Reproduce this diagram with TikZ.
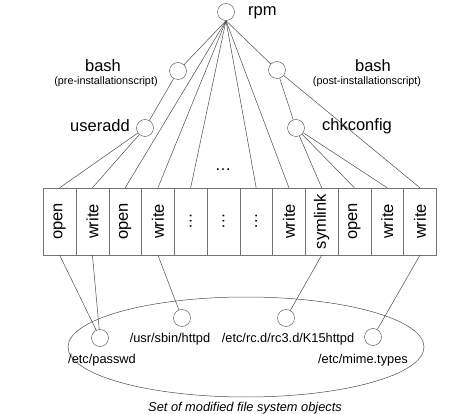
\documentclass[tikz,border=0pt]{standalone}
\usepackage{fontspec}
\setmainfont{Liberation Sans}
\usepackage{graphicx}

\begin{document}
\begin{tikzpicture}[x=1pt,y=-1pt,
    proc/.style={circle,draw=black!70,minimum size=17pt,inner sep=0pt},
    call/.style={draw=black!55,minimum width=32.75pt,minimum height=67pt,inner sep=0pt,font=\fontsize{16.5}{18}\selectfont},
    link/.style={black!70,line width=0.5pt},
    big/.style={font=\fontsize{16.5}{18}\selectfont,inner sep=0pt},
    small/.style={font=\fontsize{10.8}{12}\selectfont,inner sep=0pt},
    file/.style={font=\fontsize{12.8}{14}\selectfont,inner sep=0pt}]
    \useasboundingbox(0,0)rectangle(474,414);

    \node[proc](rpm) at (226,12){};
    \node[big,anchor=base west] (rpmlbl) at (248,16){rpm};

    \node[proc](bl) at (178,71){};
    \node[big,anchor=base] (bllbl) at (103,72){bash};
    \node[small,anchor=base] (blsub) at (106,85){(pre-installationscript)};

    \node[proc](br) at (277,70){};
    \node[big,anchor=base] (brlbl) at (373,72){bash};
    \node[small,anchor=base] (brsub) at (367,85){(post-installationscript)};

    \node[proc](ua) at (145,128){};
    \node[big,anchor=base] (ualbl) at (100,132){useradd};

    \node[proc](ck) at (296,128){};
    \node[big,anchor=base] (cklbl) at (357,131){chkconfig};

    \node[big] (more) at (223,170){\ldots};

    \foreach \t [count=\i] in {open,write,open,write,\ldots,\ldots,\ldots,write,symlink,open,write,write}
        \node[call](b\i) at ({43.3+32.75*(\i-0.5)},221.5){\rotatebox{90}{\t}};

    \draw[link](rpm.south)--(bl);
    \draw[link](rpm.south)--(br);
    \foreach \i in {3,4,5,7,8}
        \draw[link](rpm.south)--(b\i.north);
    \draw[link](bl)--(ua);
    \draw[link](br)--(ck);
    \draw[link](br)--(b12.north);
    \draw[link](ua)--(b1.north);
    \draw[link](ua)--(b2.north);
    \foreach \i in {9,10,11}
        \draw[link](ck)--(b\i.north);

    % modified objects
    \draw[link](246,347)ellipse[x radius=178,y radius=50];

    \node[proc](pw) at (100,338){};
    \node[file,anchor=base] (pwlbl) at (102,363){/etc/passwd};
    \node[proc](hd) at (182,318){};
    \node[file,anchor=base] (hdlbl) at (170,342){/usr/sbin/httpd};
    \node[proc](kf) at (286,318){};
    \node[file,anchor=base] (kflbl) at (288,342){/etc/rc.d/rc3.d/K15httpd};
    \node[proc](mt) at (373,337){};
    \node[file,anchor=base] (mtlbl) at (363,363){/etc/mime.types};

    \draw[link](b1.south)--(pw);
    \draw[link](b2.south)--(pw);
    \draw[link](b4.south)--(hd);
    \draw[link](b9.south)--(kf);
    \draw[link](b12.south)--(mt);

    \node[file,font=\fontsize{12.8}{14}\selectfont\itshape,anchor=base] (caption) at (245,411){Set of modified file system objects};
\end{tikzpicture}
\end{document}
